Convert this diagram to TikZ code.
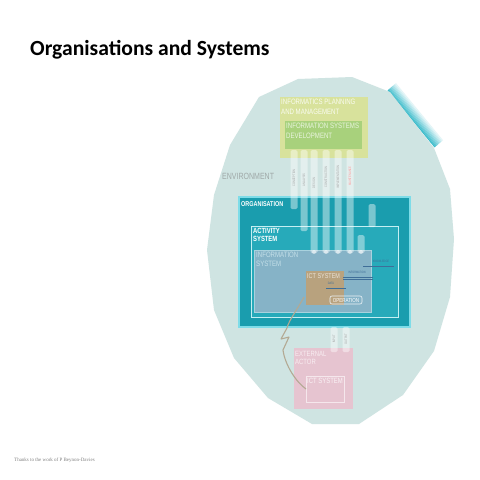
\documentclass[tikz,border=0pt]{standalone}
\usepackage{fontspec}
\usetikzlibrary{calc}
\newfontfamily\titlefont{Carlito}
\newfontfamily\cond[FakeStretch=0.78]{Liberation Sans}
\newfontfamily\footfont{Liberation Serif}
\definecolor{envc}{HTML}{CFE4E2}
\definecolor{ipmc}{HTML}{D8E29C}
\definecolor{isdc}{HTML}{A8D17C}
\definecolor{orgc}{HTML}{1A9DAE}
\definecolor{orgb}{HTML}{7EDCE8}
\definecolor{actc}{HTML}{27AABA}
\definecolor{actb}{HTML}{C4EFF3}
\definecolor{isc}{HTML}{86B3C7}
\definecolor{isb}{HTML}{A9D2DE}
\definecolor{ictc}{HTML}{B8A27E}
\definecolor{extc}{HTML}{E6C4D0}
\definecolor{tealband}{HTML}{3DBCCB}
\definecolor{arc}{HTML}{B3A993}
\definecolor{lbl}{HTML}{3F6E98}
\tikzset{
  box/.style={inner sep=0pt, anchor=north west, outer sep=0pt},
  lab/.style={inner sep=0pt, anchor=north west, align=left},
  strip/.style={fill=white, fill opacity=0.42, draw=none, rounded corners=1.5pt},
  striptext/.style={rotate=90, inner sep=0pt, font=\cond\fontsize{3.4}{3.4}\selectfont, text=gray!70},
  tiny/.style={inner sep=0pt, font=\cond\fontsize{3.2}{3.2}\selectfont, text=lbl},
  tinyline/.style={draw=lbl, line width=0.5pt}
}
\begin{document}
\begin{tikzpicture}[x=1pt,y=-1pt]
\useasboundingbox (0,0) rectangle (480,480);
\fill[white] (0,0) rectangle (480,480);
% title and footer
\node[inner sep=0pt, anchor=base west, font=\titlefont\bfseries\fontsize{21.6}{26}\selectfont] (title) at (30,55) {Organisations and Systems};
\node[inner sep=0pt, anchor=base west, font=\footfont\fontsize{5}{6}\selectfont, text=gray] (foot) at (14,461) {Thanks to the work of P Beynon-Davies};
% cyan band
\foreach \k in {0,...,9}{
  \pgfmathsetmacro{\pc}{100-9.5*\k}
  \draw[line width=1.3pt, color=tealband!\pc!white, line cap=butt]
    ($(388,90)+(0.76*\k*1.1,-0.65*\k*1.1)$) -- ($(435,147)+(0.76*\k*1.1,-0.65*\k*1.1)$);
}
% environment blob
\fill[envc] (259,97) -- (298,79) -- (352,77) -- (390,92) -- (434,148) -- (450,189) -- (454,239)
  -- (450,297) -- (434,351) -- (403,395) -- (359,424) -- (312,424) -- (268,398) -- (234,358)
  -- (214,310) -- (207,250) -- (214,195) -- (230,145) -- cycle;
\node[lab, font=\cond\fontsize{9}{10}\selectfont, text=gray!60!envc] (envt) at (222,173) {ENVIRONMENT};
% informatics planning
\node[box, fill=ipmc, minimum width=88pt, minimum height=61pt] (ipm) at (280,97) {};
\node[lab, font=\cond\fontsize{7.8}{9.5}\selectfont, text=white!85!ipmc] (ipmt) at (281,99) {INFORMATICS PLANNING\\AND MANAGEMENT};
\node[box, fill=isdc, minimum width=77pt, minimum height=28pt] (isd) at (285,121) {};
\node[lab, font=\cond\fontsize{7.8}{9.5}\selectfont, text=white!75!isdc] (isdt) at (286,123) {INFORMATION SYSTEMS\\DEVELOPMENT};
% organisation
\node[box, fill=orgc, draw=orgb, line width=1.2pt, minimum width=171pt, minimum height=130pt] (org) at (239,197) {};
\node[lab, font=\cond\bfseries\fontsize{7}{8}\selectfont, text=white] (orgt) at (241,201) {ORGANISATION};
\node[box, fill=actc, draw=actb, line width=0.9pt, minimum width=147pt, minimum height=91pt] (act) at (251,226) {};
\node[lab, font=\cond\bfseries\fontsize{7.5}{8.5}\selectfont, text=white] (actt) at (253,228) {ACTIVITY\\SYSTEM};
\node[box, fill=isc, draw=isb, line width=0.6pt, minimum width=117pt, minimum height=62pt] (is) at (254,250) {};
\node[lab, font=\cond\fontsize{7.8}{8.5}\selectfont, text=isb!70!white] (ist) at (256,252) {INFORMATION\\SYSTEM};
\node[box, fill=ictc, minimum width=38pt, minimum height=34pt] (ict) at (306,271) {};
\node[lab, font=\cond\fontsize{7}{8}\selectfont, text=white!70!ictc] (ictt) at (307,273) {ICT SYSTEM};
\node[box, draw=white!85!isc, line width=0.6pt, rounded corners=2pt, minimum width=32pt, minimum height=8pt,
  font=\cond\fontsize{5.8}{6}\selectfont, text=white, anchor=center] (oper) at (346,300) {OPERATION};
% small labels
\node[tiny, anchor=south] (know) at (381,263) {KNOWLEDGE};
\coordinate (k1) at (363,266); \coordinate (k2) at (394,266);
\draw[tinyline] (k1) -- (k2);
\node[tiny, anchor=south] (info) at (357,274) {INFORMATION};
\coordinate (i1) at (343,277); \coordinate (i2) at (373,277);
\coordinate (i3) at (343,279); \coordinate (i4) at (373,279);
\draw[tinyline] (i1) -- (i2); \draw[tinyline, line width=0.3pt] (i3) -- (i4);
\node[tiny, anchor=south] (data) at (331,285) {DATA};
\coordinate (d1) at (326,288); \coordinate (d2) at (346,288);
\draw[tinyline] (d1) -- (d2);
% strips from informatics to organisation
\draw[strip] (290.5,150) rectangle (297.5,209);
\draw[strip] (300.5,150) rectangle (307.5,231);
\foreach \x in {314,326,338,350}{
  \draw[strip] (\x-3.5,150) rectangle (\x+3.5,253);
  \fill[white, fill opacity=0.5] (\x,252) circle (2pt);
}
\draw[strip] (357.5,235) rectangle (364.5,253);
\fill[white, fill opacity=0.5] (361,252) circle (2pt);
\draw[strip] (368.5,204) rectangle (375.5,227);
\node[striptext] (s1) at (294,178) {CONCEPTION};
\node[striptext] (s2) at (304,180) {ANALYSIS};
\node[striptext] (s3) at (314,183) {DESIGN};
\node[striptext] (s4) at (326,177) {CONSTRUCTION};
\node[striptext] (s5) at (338,177) {IMPLEMENTATION};
\node[striptext, text=pink!80!red] (s6) at (350,176) {MAINTENANCE};
% external actor
\node[box, fill=extc, minimum width=59pt, minimum height=61pt] (ext) at (294,348) {};
\node[lab, font=\cond\fontsize{7.6}{8.5}\selectfont, text=white!70!extc] (extt) at (295,351) {EXTERNAL\\ACTOR};
\node[box, fill=extc, draw=white!60!extc, line width=0.5pt, minimum width=38pt, minimum height=26pt] (eict) at (306,376) {};
\node[lab, font=\cond\fontsize{7.6}{8}\selectfont, text=white!80!extc] (eictt) at (307,378) {ICT SYSTEM};
% strips from organisation to external actor
\draw[strip] (330.5,327) rectangle (337.5,352);
\draw[strip] (342.5,327) rectangle (349.5,352);
\node[striptext] (b1) at (334,339) {INPUT};
\node[striptext] (b2) at (346,339) {OUTPUT};
% lightning connector
\coordinate (z1) at (281,339); \coordinate (z2) at (289,337); \coordinate (z3) at (283,350);
\draw[arc, line width=1.1pt, line join=round] (ict.south west) ++(-2,-8)
  .. controls (297,310) and (289,320) .. (287,328) -- (z1) -- (z2) -- (z3)
  .. controls (285,365) and (296,382) .. (eict.west);
\end{tikzpicture}
\end{document}
